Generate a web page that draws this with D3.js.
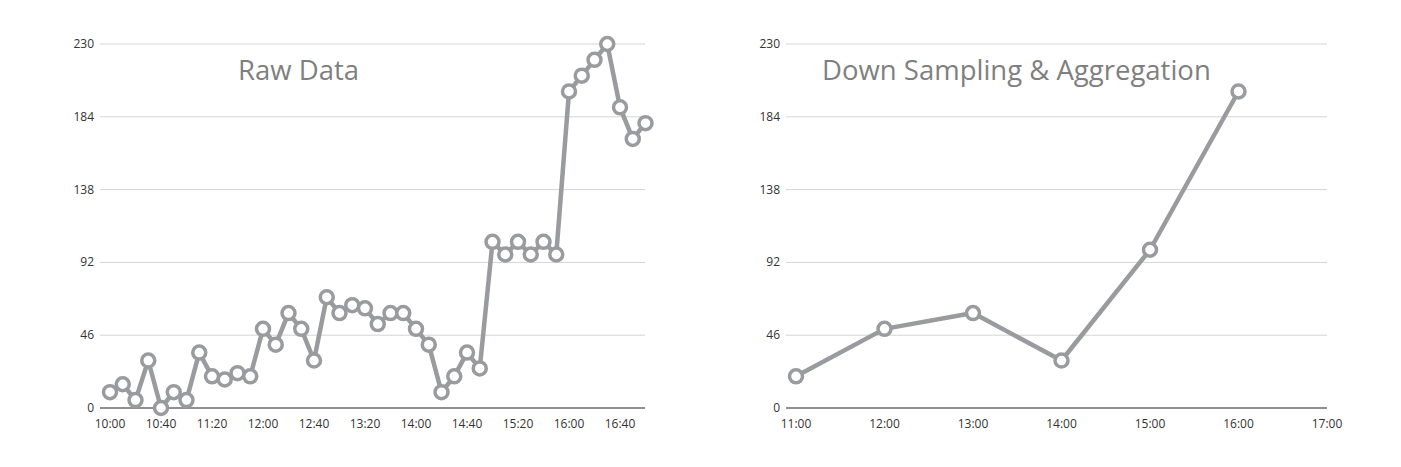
<!DOCTYPE html>
<html><head><meta charset="utf-8">
<script src="https://cdn.jsdelivr.net/npm/d3@7"></script>
<style>body{margin:0;background:#fff;font-family:"Open Sans","DejaVu Sans",sans-serif}</style>
</head><body>
<svg id="c" width="1401" height="467"></svg>
<script>
// raw data: one reading every 10 minutes from 10:00 to 17:00
const rawValues = [10,15,5,30,0,10,5,35,20,18,22,20,50,40,60,50,30,70,60,65,63,53,60,60,50,40,10,20,35,25,
  105,97,105,97,105,97,200,210,220,230,190,170,180];
const rawTicks = ["10:00","10:40","11:20","12:00","12:40","13:20","14:00","14:40","15:20","16:00","16:40"];
// hourly aggregation
const aggHours = ["11:00","12:00","13:00","14:00","15:00","16:00"];
const aggValues = [20, 50, 60, 30, 100, 200];
const aggTicks = ["11:00","12:00","13:00","14:00","15:00","16:00","17:00"];
const yTicks = [0, 46, 92, 138, 184, 230];

const svg = d3.select("#c");
const toMin = s => { const [h, m] = s.split(":"); return +h * 60 + +m; };

function panel(x0, x1, ext, xDomain, pts, ticks, title, titleX) {
  const x = d3.scaleLinear().domain(xDomain).range([x0, x1]);
  const y = d3.scaleLinear().domain([0, 230]).range([408, 44]);
  const g = svg.append("g");
  g.selectAll(".grid").data(yTicks.slice(1)).enter().append("line")
    .attr("x1", x0 - 10).attr("x2", x1 + ext).attr("y1", d => y(d)).attr("y2", d => y(d))
    .attr("stroke", "#d4d4d4").attr("stroke-width", 1);
  g.append("line").attr("x1", x0 - 10).attr("x2", x1 + ext).attr("y1", 408).attr("y2", 408)
    .attr("stroke", "#222").attr("stroke-width", 1.2);
  g.selectAll(".yl").data(yTicks).enter().append("text")
    .attr("x", x0 - 16).attr("y", d => y(d) + 4).attr("text-anchor", "end")
    .attr("font-size", 12).attr("fill", "#333").text(d => d);
  g.selectAll(".xl").data(ticks).enter().append("text")
    .attr("x", d => x(toMin(d))).attr("y", 428).attr("text-anchor", "middle")
    .attr("font-size", 12).attr("fill", "#333").text(d => d);
  const line = d3.line().x(d => x(d[0])).y(d => y(d[1]));
  g.append("path").datum(pts).attr("d", line).attr("fill", "none")
    .attr("stroke", "#9a9b9e").attr("stroke-width", 4.5).attr("stroke-linejoin", "round");
  g.selectAll("circle").data(pts).enter().append("circle")
    .attr("cx", d => x(d[0])).attr("cy", d => y(d[1])).attr("r", 6.5)
    .attr("fill", "#fff").attr("stroke", "#9a9b9e").attr("stroke-width", 3.5);
  g.append("text").attr("x", titleX).attr("y", 80).attr("font-size", 27.5)
    .attr("fill", "#7f7f7f").text(title);
}

const rawPts = rawValues.map((v, i) => [600 + i * 10, v]);
panel(110, 620, 25, [600, 1000], rawPts, rawTicks, "Raw Data", 238);
const aggPts = aggHours.map((h, i) => [toMin(h), aggValues[i]]);
panel(796, 1327, 0, [660, 1020], aggPts, aggTicks, "Down Sampling & Aggregation", 822);
</script>
</body></html>
